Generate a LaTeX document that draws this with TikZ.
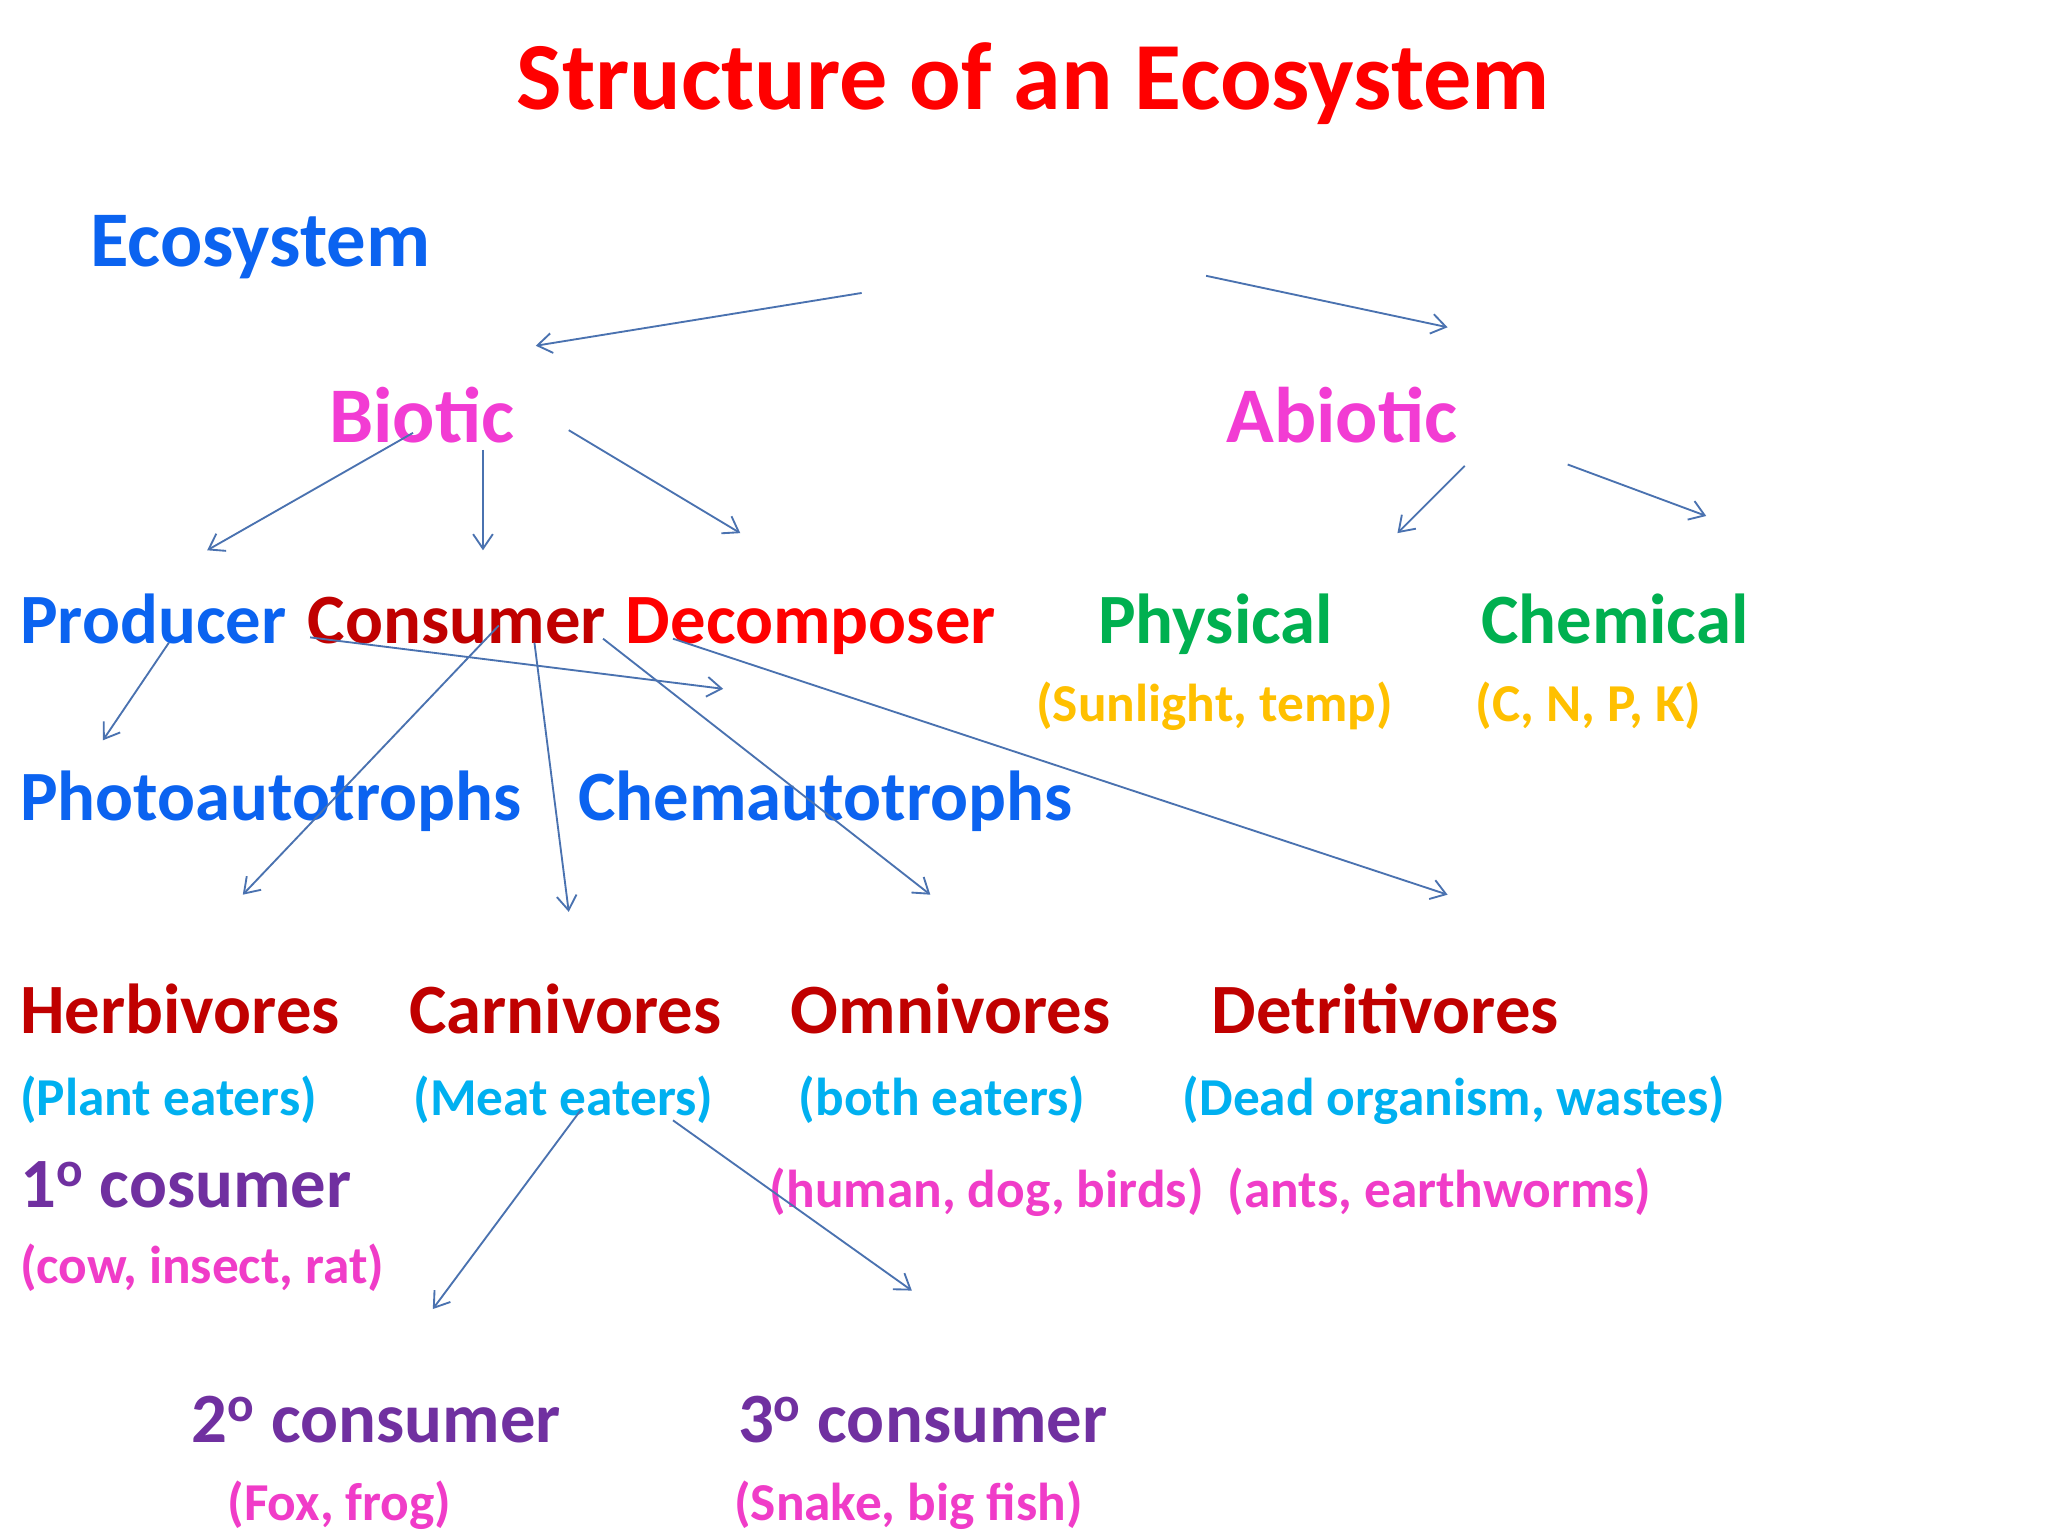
\documentclass[tikz,border=0pt]{standalone}
\usepackage{fontspec}
\setmainfont{Carlito}
\usetikzlibrary{arrows.meta}
\definecolor{cblue}{HTML}{0B63F0}
\definecolor{cmag}{HTML}{F23CD3}
\definecolor{cdred}{HTML}{C00000}
\definecolor{cred}{HTML}{FF0000}
\definecolor{cgreen}{HTML}{00B050}
\definecolor{cgold}{HTML}{FFC000}
\definecolor{ccyan}{HTML}{00B0F0}
\definecolor{cpurp}{HTML}{7030A0}
\definecolor{cpink}{HTML}{F03CC8}
\definecolor{carr}{HTML}{4A72B0}
\tikzset{
 t/.style={anchor=base west,inner sep=0pt,font=\bfseries\fontsize{#1}{#1}\selectfont},
 arr/.style={draw=carr,line width=0.8pt,-{Straight Barb[length=2.2mm,width=3mm]}}
}
\begin{document}
\begin{tikzpicture}[x=0.02cm,y=-0.02cm]
\useasboundingbox[fill=white] (0,0) rectangle (1552,1164);
\node[t=41.5,anchor=base,text=cred] (title) at (783,83) {Structure of an Ecosystem};
\node[t=34,text=cblue] (eco) at (68,202) {Ecosystem};
\node[t=34,text=cmag] (bio) at (249,335) {Biotic};
\node[t=34,text=cmag] (abio) at (929,335) {Abiotic};
\node[t=30.5,text=cblue] (prod) at (15,488) {Producer};
\node[t=30.5,text=cdred] (cons) at (233,488) {Consumer};
\node[t=30.5,text=cred] (dec) at (474,488) {Decomposer};
\node[t=30.5,text=cgreen] (phys) at (832,488) {Physical};
\node[t=30.5,text=cgreen] (chem) at (1122,488) {Chemical};
\node[t=23,text=cgold] (sun) at (785,547) {(Sunlight, temp)};
\node[t=23,text=cgold] (cnpk) at (1118,547) {(C, N, P, K)};
\node[t=30.5,text=cblue] (photo) at (15,622) {Photoautotrophs};
\node[t=30.5,text=cblue] (chemo) at (438,622) {Chemautotrophs};
\node[t=30.5,text=cdred] (herb) at (15,783) {Herbivores};
\node[t=30.5,text=cdred] (carn) at (310,783) {Carnivores};
\node[t=30.5,text=cdred] (omni) at (599,783) {Omnivores};
\node[t=30.5,text=cdred] (detr) at (918,783) {Detritivores};
\node[t=23,text=ccyan] (pe) at (15,845) {(Plant eaters)};
\node[t=23,text=ccyan] (me) at (313,845) {(Meat eaters)};
\node[t=23,text=ccyan] (be) at (605,845) {(both eaters)};
\node[t=23,text=ccyan] (dw) at (896,845) {(Dead organism, wastes)};
\node[t=30.5,text=cpurp] (c1) at (15,915) {1\textsuperscript{o} cosumer};
\node[t=23,text=cpink] (hdb) at (583,915) {(human, dog, birds)};
\node[t=23,text=cpink] (ae) at (930,915) {(ants, earthworms)};
\node[t=23,text=cpink] (cir) at (15,973) {(cow, insect, rat)};
\node[t=30.5,text=cpurp] (c2) at (145,1093) {2\textsuperscript{o} consumer};
\node[t=30.5,text=cpurp] (c3) at (559,1093) {3\textsuperscript{o} consumer};
\node[t=23,text=cpink] (ff) at (172,1152) {(Fox, frog)};
\node[t=23,text=cpink] (sbf) at (556,1152) {(Snake, big fish)};
\foreach \n/\a/\b/\c/\d in {a1/653/222/406/262, a2/914/209/1097/248, a3/313/328/157/417,
 a4/366/341/366/417, a5/431/326/561/404, a6/1110/353/1059/404, a7/1188/352/1293/391,
 a8/128/487/78/561, a9/235/483/548/522, a10/378/474/184/678, a11/405/487/431/691,
 a12/457/484/705/678, a13/510/484/1097/678, a14/441/840/328/992, a15/510/849/691/978}{
 \coordinate (\n s) at (\a,\b); \coordinate (\n e) at (\c,\d);
 \draw[arr] (\n s) -- (\n e);
}
\end{tikzpicture}
\end{document}
